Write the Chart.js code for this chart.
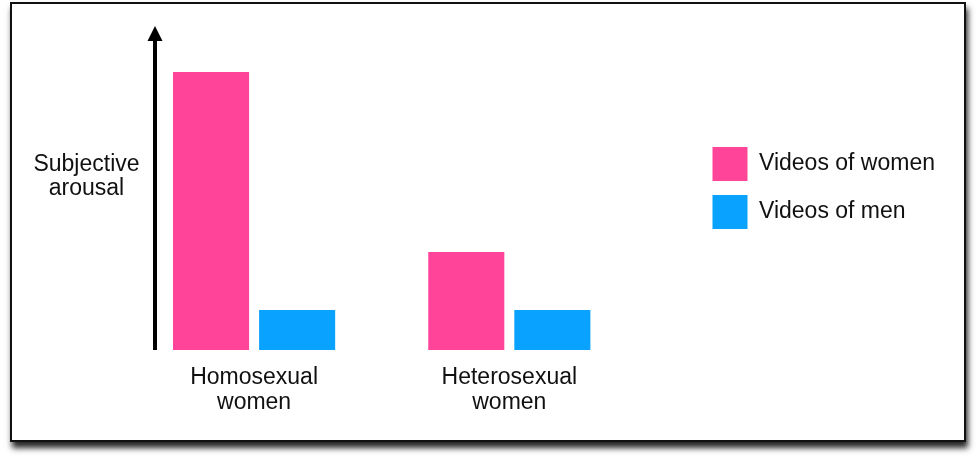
<!DOCTYPE html>
<html><head><meta charset="utf-8">
<script src="https://cdn.jsdelivr.net/npm/chart.js@4.4.1/dist/chart.umd.min.js"></script>
<style>
html,body{margin:0;padding:0;background:#fff;width:976px;height:460px;overflow:hidden;}
#frame{position:absolute;left:10px;top:2px;width:956px;height:440px;box-sizing:border-box;border:2px solid #111;background:#fff;box-shadow:2px 6px 6px rgba(0,0,0,0.85);}
#c{position:absolute;left:0;top:0;}
</style></head><body>
<div id="frame"></div>
<canvas id="c" width="976" height="460"></canvas>
<script>
// ---- data ----
const categories = [["Homosexual", "women"], ["Heterosexual", "women"]];
const groupPositions = [1, 2];
const seriesNames = ["Videos of women", "Videos of men"];
const videosOfWomen = [6.95, 2.45];
const videosOfMen = [1.0, 1.0];
const yAxisTitle = ["Subjective", "arousal"];

const FONT = "'Liberation Sans', Arial, Helvetica, sans-serif";
const PINK = '#FF4499';
const BLUE = '#0AA2FF';
const INK = '#111111';

const axisArrow = {
  id: 'axisArrow',
  afterDatasetsDraw(chart) {
    const {ctx, chartArea, scales} = chart;
    const x0 = chartArea.left;
    const yBase = scales.y.getPixelForValue(0);
    const yTip = chartArea.top;
    ctx.save();
    ctx.strokeStyle = '#000';
    ctx.fillStyle = '#000';
    ctx.lineWidth = 4;
    ctx.beginPath();
    ctx.moveTo(x0, yBase);
    ctx.lineTo(x0, yTip + 12);
    ctx.stroke();
    ctx.beginPath();
    ctx.moveTo(x0, yTip);
    ctx.lineTo(x0 - 7.5, yTip + 15);
    ctx.lineTo(x0 + 7.5, yTip + 15);
    ctx.closePath();
    ctx.fill();
    ctx.font = '23px ' + FONT;
    ctx.fillStyle = INK;
    ctx.textAlign = 'center';
    ctx.textBaseline = 'alphabetic';
    const cx = x0 - 68.5;
    yAxisTitle.forEach((line, i) => ctx.fillText(line, cx, 171 + i * 24));
    ctx.restore();
  }
};

new Chart(document.getElementById('c'), {
  type: 'bar',
  data: {
    datasets: [
      {
        label: seriesNames[0],
        data: groupPositions.map((x, i) => ({x: x, y: videosOfWomen[i]})),
        backgroundColor: PINK,
        borderWidth: 0
      },
      {
        label: seriesNames[1],
        data: groupPositions.map((x, i) => ({x: x, y: videosOfMen[i]})),
        backgroundColor: BLUE,
        borderWidth: 0
      }
    ]
  },
  options: {
    responsive: false,
    animation: false,
    devicePixelRatio: 1,
    categoryPercentage: 0.6745,
    barPercentage: 0.8837,
    layout: {padding: {left: 155, top: 26, right: 31, bottom: 29.7}},
    plugins: {
      tooltip: {enabled: false},
      title: {display: false},
      legend: {
        position: 'right',
        fullSize: false,
        align: 'center',
        labels: {
          boxWidth: 35,
          boxHeight: 34,
          padding: 14,
          color: INK,
          font: {family: FONT, size: 23}
        }
      }
    },
    scales: {
      x: {
        type: 'linear',
        offset: false,
        min: 0.61176,
        max: 2.7412,
        grid: {display: false, drawTicks: false},
        border: {display: false},
        afterBuildTicks: (axis) => { axis.ticks = groupPositions.map(v => ({value: v})); },
        ticks: {
          autoSkip: false,
          maxRotation: 0,
          padding: 16,
          color: INK,
          font: {family: FONT, size: 23, lineHeight: 1.05},
          callback: (value, index) => categories[index]
        }
      },
      y: {
        display: false,
        min: 0,
        max: 8.1
      }
    }
  },
  plugins: [axisArrow]
});
</script>
</body></html>
